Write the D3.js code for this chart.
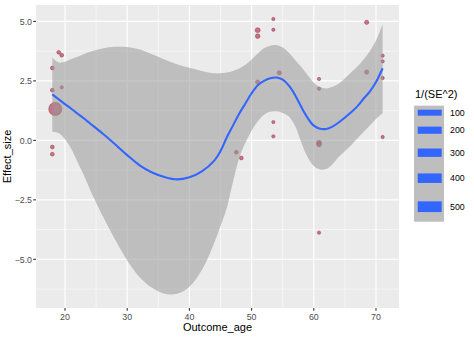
<!DOCTYPE html>
<html><head><meta charset="utf-8">
<script src="https://cdn.jsdelivr.net/npm/d3@7"></script>
<style>body{margin:0;background:#fff}svg{display:block}text{font-family:"Liberation Sans",Arial,sans-serif}</style>
</head><body><svg id="c" width="474" height="338"></svg>
<script>
// ---- data ----
const pointAge = [18.99,19.47,17.96,17.96,19.47,18.44,17.96,17.96,53.5,50.98,50.98,53.5,50.98,54.45,53.5,53.5,47.54,48.35,60.84,60.84,60.84,60.84,68.5,68.5,71.07,71.07,71.07,71.07,60.84];
const pointEffect = [3.70,3.58,3.04,2.11,2.23,1.32,-0.28,-0.58,5.10,4.63,4.38,4.65,2.45,2.84,0.77,0.17,-0.50,-0.74,2.58,2.17,-0.10,-0.17,4.96,2.87,3.56,3.32,2.62,0.14,-3.88];
const pointWeight = [12,12,12,12,9,140,12,12,9,20,17,9,15,15,9,9,12,12,9,9,20,20,15,15,9,9,9,9,9];

const smoothAge = [17.96,19,20,21,22,23,24,26,28,30,32,34,36,38,40,42,44,45,46,47,48,49,50,51,52,53,54,55,56,57,58,59,60,61,62,63,64,66,67,68,69,70,71.07];
const smoothFit = [1.93,1.72,1.52,1.33,1.13,0.93,0.72,0.30,-0.15,-0.62,-1.05,-1.35,-1.54,-1.64,-1.55,-1.30,-0.85,-0.45,0.12,0.62,1.12,1.55,1.98,2.32,2.50,2.61,2.64,2.55,2.30,1.90,1.40,0.95,0.62,0.49,0.48,0.58,0.75,1.18,1.43,1.75,2.05,2.45,3.03];
const smoothUpper = [3.48,3.27,3.30,3.42,3.52,3.62,3.72,3.86,3.93,3.92,3.82,3.62,3.40,3.20,3.05,2.92,2.82,2.82,2.85,2.92,3.02,3.18,3.40,3.65,3.87,3.98,4.00,3.90,3.68,3.38,3.08,2.75,2.42,2.24,2.18,2.25,2.38,2.85,3.10,3.40,3.75,4.20,4.88];
const smoothLower = [0.36,0.30,0.05,-0.35,-0.90,-1.45,-2.05,-3.15,-4.15,-5.05,-5.75,-6.20,-6.45,-6.45,-6.15,-5.45,-4.30,-3.60,-2.85,-1.75,-0.75,-0.10,0.40,0.80,1.08,1.20,1.22,1.15,1.00,0.60,-0.10,-0.70,-1.08,-1.22,-1.20,-1.00,-0.70,-0.20,0.08,0.35,0.62,0.90,1.15];

const xTicks = [20,30,40,50,60,70];
const yTicks = [-5,-2.5,0,2.5,5];
const xMinor = [25,35,45,55,65];
const yMinor = [-6.25,-3.75,-1.25,1.25,3.75];
const legendValues = [100,200,300,400,500];
const legendTitle = "1/(SE^2)";
const xTitle = "Outcome_age";
const yTitle = "Effect_size";

// ---- layout ----
const svg = d3.select("#c");
const P = {l:36, r:399, t:5, b:308};
const x = d3.scaleLinear().domain([15.338,73.698]).range([P.l,P.r]);
const y = d3.scaleLinear().domain([-7.046,5.69]).range([P.b,P.t]);

svg.append("rect").attr("width",474).attr("height",338).attr("fill","#fff");
svg.append("rect").attr("x",P.l).attr("y",P.t).attr("width",P.r-P.l).attr("height",P.b-P.t).attr("fill","#EBEBEB");

const g = svg.append("g");
g.selectAll(".mx").data(xMinor).join("line").attr("x1",d=>x(d)).attr("x2",d=>x(d)).attr("y1",P.t).attr("y2",P.b).attr("stroke","#fff").attr("stroke-width",0.55);
g.selectAll(".my").data(yMinor).join("line").attr("y1",d=>y(d)).attr("y2",d=>y(d)).attr("x1",P.l).attr("x2",P.r).attr("stroke","#fff").attr("stroke-width",0.55);
g.selectAll(".Mx").data(xTicks).join("line").attr("x1",d=>x(d)).attr("x2",d=>x(d)).attr("y1",P.t).attr("y2",P.b).attr("stroke","#fff").attr("stroke-width",1.1);
g.selectAll(".My").data(yTicks).join("line").attr("y1",d=>y(d)).attr("y2",d=>y(d)).attr("x1",P.l).attr("x2",P.r).attr("stroke","#fff").attr("stroke-width",1.1);

// points
const r = d3.scaleSqrt().domain([0,140]).range([0,6.6]);
const pts = pointAge.map((a,i)=>({a, e:pointEffect[i], w:pointWeight[i]}));
svg.append("g").selectAll("circle").data(pts).join("circle")
  .attr("cx",d=>x(d.a)).attr("cy",d=>y(d.e)).attr("r",d=>r(d.w))
  .attr("fill","#B5425A").attr("fill-opacity",0.72).attr("stroke","#8E2F45").attr("stroke-width",0.6).attr("stroke-opacity",0.7);

// ribbon + line
const sm = smoothAge.map((a,i)=>({a, f:smoothFit[i], u:smoothUpper[i], lo:smoothLower[i]}));
svg.append("path").datum(sm).attr("d", d3.area().x(d=>x(d.a)).y0(d=>y(d.lo)).y1(d=>y(d.u)).curve(d3.curveCatmullRom))
  .attr("fill","#999999").attr("fill-opacity",0.55);
svg.append("path").datum(sm).attr("d", d3.line().x(d=>x(d.a)).y(d=>y(d.f)).curve(d3.curveCatmullRom))
  .attr("fill","none").attr("stroke","#3366FF").attr("stroke-width",2.1);

// axes
const ax = svg.append("g");
ax.selectAll(".tx").data(xTicks).join("line").attr("x1",d=>x(d)).attr("x2",d=>x(d)).attr("y1",P.b).attr("y2",P.b+2.8).attr("stroke","#333").attr("stroke-width",1.07);
ax.selectAll(".lx").data(xTicks).join("text").attr("x",d=>x(d)).attr("y",320).attr("text-anchor","middle").attr("font-size",8.8).attr("fill","#4D4D4D").text(d=>d);
ax.selectAll(".ty").data(yTicks).join("line").attr("y1",d=>y(d)).attr("y2",d=>y(d)).attr("x1",P.l-2.8).attr("x2",P.l).attr("stroke","#333").attr("stroke-width",1.07);
ax.selectAll(".ly").data(yTicks).join("text").attr("x",32).attr("y",d=>y(d)+3.2).attr("text-anchor","end").attr("font-size",8.8).attr("fill","#4D4D4D").text(d=>d3.format(".1f")(d).replace("-","-"));
svg.append("text").attr("x",(P.l+P.r)/2).attr("y",331).attr("text-anchor","middle").attr("font-size",11).attr("fill","#000").text(xTitle);
svg.append("text").attr("transform",`translate(11,${(P.t+P.b)/2}) rotate(-90)`).attr("text-anchor","middle").attr("font-size",11).attr("fill","#000").text(yTitle);

// legend
const lg = svg.append("g");
lg.append("text").attr("x",415).attr("y",98).attr("font-size",11).attr("fill","#000").text(legendTitle);
const keyH = d3.scaleLinear().domain([100,200,500]).range([14,21,30]);
const barH = d3.scaleLinear().domain([100,500]).range([6,10.7]);
let cy = 105.7;
const keys = legendValues.map(v=>{const h=keyH(v); const k={v, top:cy, h}; cy+=h; return k;});
lg.append("rect").attr("x",414).attr("y",keys[0].top).attr("width",30).attr("height",cy-keys[0].top).attr("fill","#EBEBEB");
lg.append("rect").attr("x",414).attr("y",keys[0].top).attr("width",30).attr("height",cy-keys[0].top).attr("fill","#999999").attr("fill-opacity",0.55);
lg.selectAll(".kb").data(keys).join("rect").attr("x",417.7).attr("width",24).attr("y",d=>d.top+d.h/2-barH(d.v)/2).attr("height",d=>barH(d.v)).attr("fill","#3366FF");
lg.selectAll(".kl").data(keys).join("text").attr("x",450).attr("y",d=>d.top+d.h/2+3.2).attr("font-size",8.8).attr("fill","#000").text(d=>d.v);
</script></body></html>
